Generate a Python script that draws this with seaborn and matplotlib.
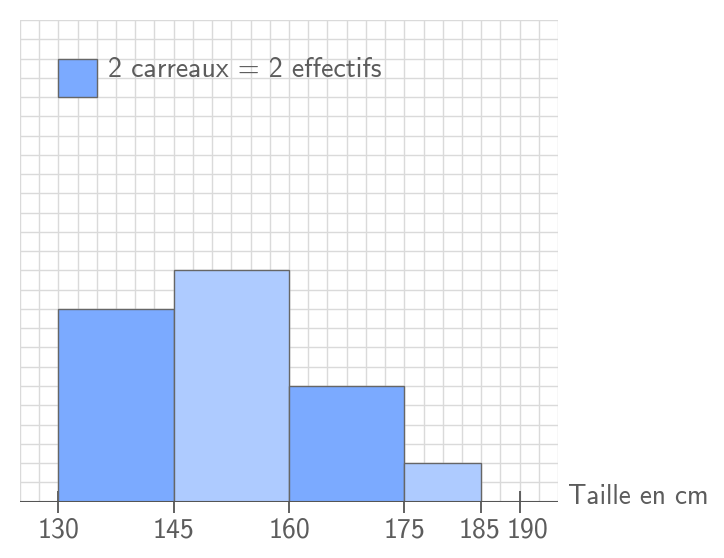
import matplotlib
matplotlib.use("Agg")
import matplotlib.pyplot as plt
import matplotlib.transforms as mtransforms
import seaborn as sns

# classes de tailles (cm) et hauteurs des barres (en carreaux)
edges = [130, 145, 160, 175, 185]
heights = [10, 12, 6, 2]
bar_colors = ["#7baaff", "#aecbff", "#7baaff", "#aecbff"]
tick_values = [130, 145, 160, 175, 185, 190]
tick_labels = ["130", "145", "160", "175", "185", "190"]
legend_text = "2 carreaux = 2 effectifs"
xlabel = "Taille en cm"

sns.set_theme(style="white")
plt.rcParams["font.family"] = ["cmss10", "DejaVu Sans"]
plt.rcParams["axes.unicode_minus"] = False

fig = plt.figure(figsize=(7.24, 5.58), dpi=100)
ax = fig.add_axes([20 / 724, 56 / 558, 538 / 724, 482 / 558])

# grille de carreaux : 2.5 cm en x, 1 unité en y
x0, x1 = 125, 195
y0, y1 = 0, 25
for i in range(29):
    ax.axvline(x0 + 2.5 * i, color="#dadada", lw=1, zorder=0)
for j in range(26):
    ax.axhline(y0 + j, color="#dadada", lw=1, zorder=0)

for left, right, h, c in zip(edges[:-1], edges[1:], heights, bar_colors):
    sns.histplot(x=[(left + right) / 2], weights=[h], bins=[left, right],
                 color=c, alpha=1, edgecolor="#666666", linewidth=1,
                 ax=ax, zorder=2)

# légende : carré de 2 x 2 carreaux
leg_x, leg_y = 130, 21
ax.add_patch(plt.Rectangle((leg_x, leg_y), 5, 2, facecolor="#7baaff",
                           edgecolor="#666666", lw=1, zorder=3))
ax.text(leg_x + 6.4, leg_y + 1.45, legend_text, fontsize=20, color="#5c5c5c",
        va="center", ha="left", zorder=3)

ax.set_xlim(x0, x1)
ax.set_ylim(y0 - 0.02, y1)
ax.axhline(0, color="#555555", lw=1.5, zorder=4)
for s in ax.spines.values():
    s.set_visible(False)
ax.set_yticks([])
ax.set_xticks(tick_values)
ax.set_xticklabels(tick_labels, fontsize=20, color="#5c5c5c")
ax.tick_params(axis="x", direction="inout", length=16, width=1.3,
               color="#555555", pad=3, bottom=True)
# écarter un peu 185 et 190
lbls = ax.get_xticklabels()
lbls[4].set_transform(lbls[4].get_transform() + mtransforms.ScaledTranslation(-2 / 100, 0, fig.dpi_scale_trans))
lbls[5].set_transform(lbls[5].get_transform() + mtransforms.ScaledTranslation(8 / 100, 0, fig.dpi_scale_trans))
ax.set_xlabel("")
ax.set_ylabel("")
ax.text(1.0185, 0.012, xlabel, transform=ax.transAxes, fontsize=19.6,
        color="#5c5c5c", ha="left", va="center")

fig.savefig("out.png", dpi=100)
